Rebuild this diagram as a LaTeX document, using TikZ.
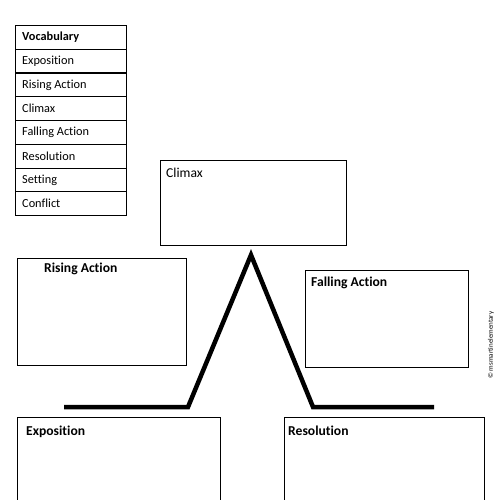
\documentclass[tikz,border=0pt]{standalone}
\usepackage{fontspec}
\setmainfont[Ligatures=NoCommon]{Carlito}
\begin{document}
\begin{tikzpicture}[x=1pt,y=-1pt,
  box/.style={draw, line width=1.3pt, rectangle, inner sep=0, anchor=north west},
  cell/.style={draw, line width=1.2pt, minimum width=111pt, minimum height=23.75pt, inner sep=0, anchor=north west},
  celltext/.style={anchor=west, inner sep=0},
  lbl/.style={anchor=base west, inner sep=0, font=\fontsize{13.6}{15}\selectfont\bfseries},
  plot/.style={line width=4.5pt, line join=miter}]
\useasboundingbox (0,0) rectangle (500,500);
\clip (0,0) rectangle (500,500);
% vocabulary table
\foreach \i/\t/\f in {0/Vocabulary/\bfseries, 1/Exposition/, 2/Rising Action/, 3/Climax/, 4/Falling Action/, 5/Resolution/, 6/Setting/, 7/Conflict/}{
  \node[cell] (row\i) at (15,{25+\i*23.75}) {};
  \node[celltext, font=\fontsize{12.3}{14}\selectfont\f] (rowtext\i) at ([xshift=7pt]row\i.west) {\t};
}
% boxes
\node[box, minimum width=186pt, minimum height=85pt] (climax) at (160,160) {};
\node[anchor=base west, inner sep=0, font=\fontsize{13.6}{15}\selectfont] (climaxlbl) at (166,177) {Climax};
\node[box, minimum width=169pt, minimum height=107pt] (rising) at (17,258) {};
\node[lbl] (risinglbl) at (44,272) {Rising Action};
\node[box, minimum width=163pt, minimum height=97pt] (falling) at (305,270) {};
\node[lbl] (fallinglbl) at (311,286) {Falling Action};
\node[box, minimum width=203pt, minimum height=100pt] (expo) at (17,417) {};
\node[lbl] (expolbl) at (26,435) {Exposition};
\node[box, minimum width=200pt, minimum height=100pt] (reso) at (284,417) {};
\node[lbl] (resolbl) at (288,435) {Resolution};
% plot line
\coordinate (p0) at (64,407);
\coordinate (p1) at (188,407);
\coordinate (peak) at (251,255);
\coordinate (p3) at (313,407);
\coordinate (p4) at (434,407);
\draw[plot] (p0) -- (p1) -- (peak) -- (p3) -- (p4);
% credit
\node[rotate=90, inner sep=0, font=\fontsize{7}{8}\selectfont] (credit) at (491,345) {© msmartinelementary};
\end{tikzpicture}
\end{document}
